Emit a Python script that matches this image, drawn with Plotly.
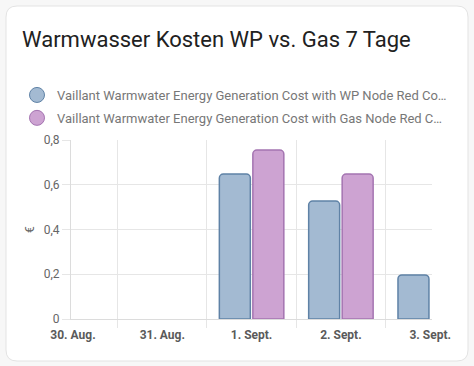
import plotly.graph_objects as go

categories = ["30. Aug.", "31. Aug.", "1. Sept.", "2. Sept.", "3. Sept."]
wp_cost = [None, None, 0.648, 0.527, 0.197]
gas_cost = [None, None, 0.755, 0.648, None]
series_names = [
    "Vaillant Warmwater Energy Generation Cost with WP Node Red Co…",
    "Vaillant Warmwater Energy Generation Cost with Gas Node Red C…",
]
y_ticks = [0, 0.2, 0.4, 0.6, 0.8]
title_text = "Warmwasser Kosten WP vs. Gas 7 Tage"
y_title = "€"

W, H = 474, 366
L, R, T, B = 71, 42, 140, 47
pw, ph = W - L - R, H - T - B

blue_fill, blue_line = "#a3bad2", "#5f82a6"
purple_fill, purple_line = "#cda3d2", "#a474b1"

fig = go.Figure()
fig.add_trace(go.Bar(x=categories, y=wp_cost, marker=dict(color=blue_fill, line=dict(color=blue_line, width=1.5), cornerradius=4), showlegend=False))
fig.add_trace(go.Bar(x=categories, y=gas_cost, marker=dict(color=purple_fill, line=dict(color=purple_line, width=1.5), cornerradius=4), showlegend=False))
for i, (name, fc, lc) in enumerate([(series_names[0], blue_fill, blue_line), (series_names[1], purple_fill, purple_line)]):
    fig.add_trace(go.Scatter(x=[None], y=[None], mode="markers", name=name, legendgroup=f"g{i}",
                             marker=dict(symbol="circle", size=15, color=fc, line=dict(color=lc, width=1))))

def px(x):
    return (x - L) / pw
def py(y):
    return (H - B - y) / ph

# card background
x0, y0, x1, y1, r = 6, 6, 468, 361, 11
path = (f"M {px(x0+r)},{py(y0)} L {px(x1-r)},{py(y0)} Q {px(x1)},{py(y0)} {px(x1)},{py(y0+r)} "
        f"L {px(x1)},{py(y1-r)} Q {px(x1)},{py(y1)} {px(x1-r)},{py(y1)} "
        f"L {px(x0+r)},{py(y1)} Q {px(x0)},{py(y1)} {px(x0)},{py(y1-r)} "
        f"L {px(x0)},{py(y0+r)} Q {px(x0)},{py(y0)} {px(x0+r)},{py(y0)} Z")
fig.add_shape(type="path", path=path, xref="paper", yref="paper", layer="below",
              fillcolor="white", line=dict(color="#e3e3e3", width=1))

grid = "#e6e6e6"
fig.update_layout(
    width=W, height=H,
    margin=dict(l=L, r=R, t=T, b=B),
    paper_bgcolor="#f7f7f7", plot_bgcolor="rgba(0,0,0,0)",
    font=dict(family="Roboto", color="#666666"),
    separators=",.",
    barmode="group", bargap=0.25, bargroupgap=0.075,
    title=dict(text=title_text, x=22 / W, xanchor="left", xref="container",
               y=1 - 39 / H, yanchor="middle", yref="container",
               font=dict(family="Roboto", size=22, color="#212121")),
    legend=dict(x=(17 - L) / pw, xanchor="left", y=py(80), yanchor="top",
                font=dict(family="Roboto", size=13, color="#777777"),
                bgcolor="rgba(0,0,0,0)", tracegroupgap=3, itemclick=False),
    xaxis=dict(type="category", range=[-0.022, 4.02], tickson="boundaries",
               showgrid=True, gridcolor=grid, ticks="outside", ticklen=8, tickcolor=grid,
               showline=True, linecolor="#dcdcdc", linewidth=1, ticklabelstandoff=5,
               tickfont=dict(size=12, color="#5a5a5a", weight="bold")),
    yaxis=dict(range=[0, 0.8], tickvals=y_ticks, showgrid=True, gridcolor=grid,
               ticks="outside", ticklen=8, tickcolor=grid, zeroline=False,
               showline=True, linecolor="#dcdcdc", linewidth=1, ticklabelstandoff=0,
               tickfont=dict(size=12, color="#666666"),
               title=dict(text=y_title, standoff=6, font=dict(size=12, color="#666666"))),
)

fig.write_html("out.html", config={"displayModeBar": False},
               post_script="document.body.style.margin='0';document.body.style.padding='0';")
